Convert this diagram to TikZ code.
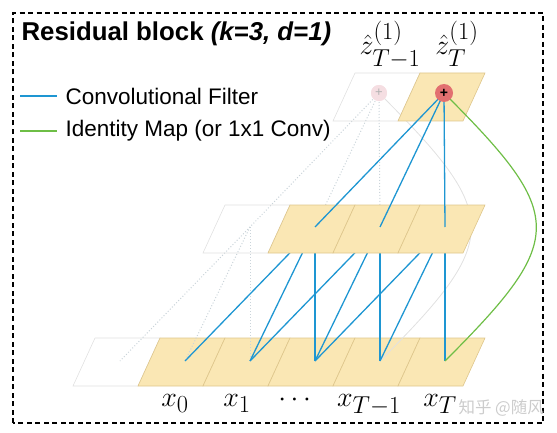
\RequirePackage{fix-cm}
\documentclass[tikz,border=0pt]{standalone}
\usepackage[no-math]{fontspec}
\usepackage{amsmath}
\usepackage{tikz}
\usetikzlibrary{calc}
\newfontfamily\legendfont{Liberation Sans}
\newfontfamily\cjkfont{Noto Sans CJK SC}
\DeclareMathSizes{28}{28}{24.5}{19}
\definecolor{mycellfill}{RGB}{250,231,180}
\definecolor{mycelledge}{RGB}{222,198,140}
\definecolor{myghost}{RGB}{225,225,225}
\definecolor{myblue}{RGB}{30,150,210}
\definecolor{mygreen}{RGB}{110,190,70}
\definecolor{myred}{RGB}{226,112,112}
\definecolor{mypink}{RGB}{245,222,226}

% one slanted cell of a layer, lower left corner at (#1,#2)
\newcommand{\cellat}[3]{%
  \draw[#3] (#1,#2) -- ++(65,0) -- ++(22,48) -- ++(-65,0) -- cycle;}

\begin{document}
\begin{tikzpicture}[x=1pt, y=1pt,
  cell/.style={fill=mycellfill, draw=mycelledge, line width=0.6pt},
  ghostcell/.style={draw=myghost, line width=0.6pt},
  conv/.style={myblue, line width=1.3pt},
  ident/.style={mygreen, line width=1.2pt},
  ghostconv/.style={myblue!25!gray!35, dotted, line width=1pt},
  ghostident/.style={myghost, line width=0.8pt},
  sumnode/.style={circle, fill=myred, minimum size=18pt, inner sep=0pt,
                  font=\bfseries\legendfont\fontsize{14}{14}\selectfont},
  ghostsum/.style={circle, fill=mypink, text=gray!60, minimum size=16pt,
                   inner sep=0pt, font=\legendfont\fontsize{13}{13}\selectfont},
  inlabel/.style={anchor=base, font=\fontsize{28}{32}\selectfont},
  legtext/.style={anchor=west, font=\legendfont\fontsize{22.5}{27}\selectfont}]
  \useasboundingbox (0,0) rectangle (557,432);
  % frame
  \draw[black, line width=2pt, dash pattern=on 5pt off 3.5pt] (13,9) rectangle (543,419);
  \node[anchor=base west, font=\legendfont\bfseries\fontsize{25.8}{30}\selectfont]
    (title) at (18,391) {Residual block \textit{(k=3, d=1)}};

  % legend
  \coordinate (lc0) at (20,336);
  \coordinate (lc1) at (57,336);
  \coordinate (li0) at (20,301);
  \coordinate (li1) at (57,301);
  \draw[conv] (lc0) -- (lc1);
  \draw[ident] (li0) -- (li1);
  \node[legtext] (convtext) at (62,336) {Convolutional Filter};
  \node[legtext] (identtext) at (62,301) {Identity Map (or 1x1 Conv)};

  % input layer
  \cellat{73}{46}{ghostcell}
  \foreach \c in {1,...,5} {\cellat{73+65*\c}{46}{cell}}
  \foreach \c in {0,...,5} {\coordinate (b\c) at ({120+65*\c},71);}

  % hidden layer points
  \foreach \c in {2,...,5} {\coordinate (m\c) at ({120+65*\c},205);}

  % output layer points
  \node[ghostsum] (zTm1) at (379,339) {+};

  % faded paths of the previous output
  \draw[ghostident] (zTm1.center) to[out=-45, in=45, looseness=1.65] (b4);
  \foreach \c in {2,3,4} {\draw[ghostconv] (zTm1.center) -- (m\c);}
  \foreach \c in {0,1,2} {\draw[ghostconv] (m2) -- (b\c);}

  % hidden layer <- inputs
  \foreach \c in {3,4,5} {
    \pgfmathtruncatemacro{\ca}{\c-2}
    \pgfmathtruncatemacro{\cb}{\c-1}
    \draw[conv] (b\ca) -- (m\c);
    \draw[conv] (b\cb) -- (m\c);
    \draw[conv] (b\c) -- (m\c);
  }

  % hidden layer
  \cellat{203}{179}{ghostcell}
  \foreach \c in {3,4,5} {\cellat{73+65*\c}{179}{cell}}

  % output layer
  \cellat{333}{311}{ghostcell}
  \cellat{398}{311}{cell}
  \node[ghostsum] at (zTm1) {+};
  \foreach \c in {3,4,5} {\draw[conv] (444,339) -- (m\c);}
  \draw[ident] (444,339) to[out=-45, in=45, looseness=1.65] (b5);
  \node[sumnode] (zT) at (444,339) {+};

  % labels
  \node[inlabel] (lz1) at (390,377) {$\hat{z}_{T-1}^{(1)}$};
  \node[inlabel] (lz2) at (457,377) {$\hat{z}_{T}^{(1)}$};
  \node[inlabel] (lx0) at (175,26) {$x_0$};
  \node[inlabel] (lx1) at (237,26) {$x_1$};
  \node[inlabel] (ldots) at (297,26) {$\cdots$};
  \node[inlabel] (lxa) at (369,26) {$x_{T-1}$};
  \node[inlabel] (lxb) at (440,26) {$x_T$};
  \node[anchor=base west, text=gray!40, font=\cjkfont\fontsize{16.5}{16.5}\selectfont]
    (mark) at (455,19) {知乎 @随风};
\end{tikzpicture}
\end{document}
